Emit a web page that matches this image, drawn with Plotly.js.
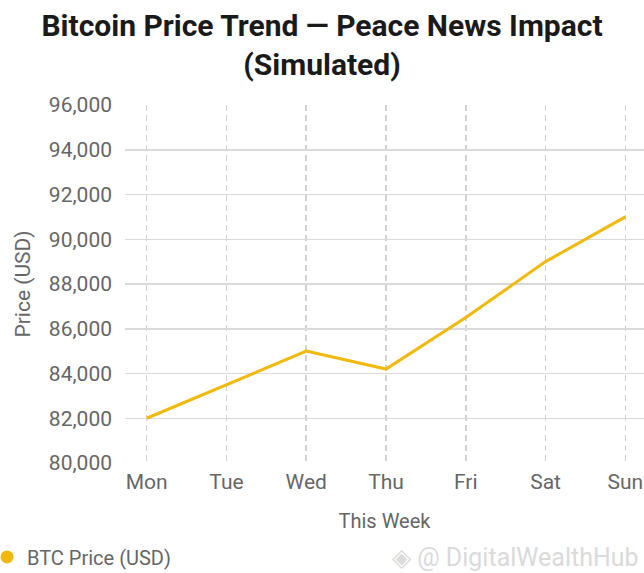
<!DOCTYPE html>
<html>
<head>
<meta charset="utf-8">
<script src="https://cdn.plot.ly/plotly-3.0.1.min.js"></script>
<style>html,body{margin:0;padding:0;background:#fff;overflow:hidden}</style>
</head>
<body>
<div id="chart" style="width:644px;height:573px"></div>
<script>
var days = ["Mon", "Tue", "Wed", "Thu", "Fri", "Sat", "Sun"];
var btcPrice = [82000, 83500, 85000, 84200, 86500, 89000, 91000];
var seriesName = "BTC Price (USD)";
var yTicks = [80000, 82000, 84000, 86000, 88000, 90000, 92000, 94000, 96000];

var gold = "#F0B90B";
var gray = "#666666";
var fontFam = "Roboto, 'Noto Sans', sans-serif";

var traces = [
  {
    x: days, y: btcPrice, type: "scatter", mode: "lines",
    line: {color: gold, width: 3}, name: seriesName, showlegend: false,
    hoverinfo: "x+y"
  },
  {
    x: [null], y: [null], type: "scatter", mode: "markers",
    marker: {color: gold, size: 13}, name: seriesName, showlegend: true
  }
];

var layout = {
  width: 644, height: 573,
  margin: {l: 125, r: 0, t: 105, b: 110},
  paper_bgcolor: "#fff", plot_bgcolor: "#fff",
  font: {family: fontFam, color: gray, size: 20},
  title: {
    text: "<b>Bitcoin Price Trend — Peace News Impact</b><br><b>(Simulated)</b>",
    font: {family: fontFam, size: 30, color: "#1a1a1a"},
    x: 0.5, xref: "container", xanchor: "center",
    y: 0.937, yref: "container", yanchor: "middle"
  },
  xaxis: {
    type: "category",
    range: [-0.272, 6.234],
    showgrid: true, gridcolor: "#d2d2d2", griddash: "6px,4px", gridwidth: 1.5,
    zeroline: false, showline: false,
    ticks: "", ticklabelstandoff: 4, tickfont: {size: 21, color: gray},
    title: {text: "This Week", font: {size: 20, color: gray}, standoff: 20},
    fixedrange: true
  },
  yaxis: {
    range: [80000, 96000],
    tickvals: yTicks, tickformat: ",",
    showgrid: true, gridcolor: "#d9d9d9", gridwidth: 1.5,
    zeroline: false, showline: false,
    ticks: "", ticklabelstandoff: 12,
    tickfont: {size: 21, color: gray},
    title: {text: "Price (USD)", font: {size: 21, color: gray}, standoff: 12},
    fixedrange: true
  },
  showlegend: true,
  legend: {
    orientation: "h", xref: "container", yref: "container",
    x: 0, y: 0.028, xanchor: "left", yanchor: "middle",
    indentation: -13,
    font: {size: 20, color: gray}, itemwidth: 30
  },
  annotations: [
    {
      text: "◈ @ DigitalWealthHub", xref: "paper", yref: "paper",
      x: 0.995, y: -0.263, xanchor: "right", yanchor: "middle", showarrow: false,
      font: {family: fontFam, size: 25, color: "#dadada"}
    }
  ]
};

Plotly.newPlot("chart", traces, layout, {displayModeBar: false, staticPlot: true});
</script>
</body>
</html>
